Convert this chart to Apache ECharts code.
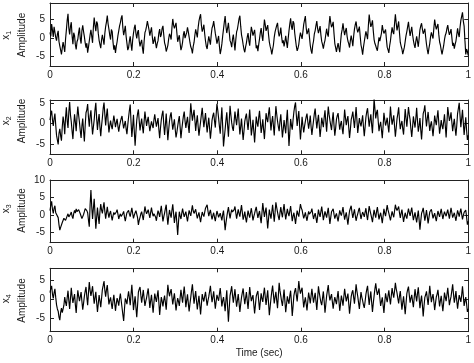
<!DOCTYPE html>
<html>
<head>
<meta charset="utf-8">
<script src="https://cdn.jsdelivr.net/npm/echarts@6/dist/echarts.min.js"></script>
<style>html,body{margin:0;padding:0;background:#fff}#c{width:474px;height:363px}</style>
</head>
<body>
<div id="c"></div>
<script>
// ---- data (512 samples per channel over 0..1 s) ----
var xTickLabels = ['0', '0.2', '0.4', '0.6', '0.8', '1'];
var channelNames = ['1', '2', '3', '4'];
var yTicks1 = [-5, 0, 5];
var yTicks2 = [-5, 0, 5];
var yTicks3 = [-5, 0, 5, 10];
var yTicks4 = [-5, 0, 5];

var x1 = [
 1.5,0.4,3.8,2.1,0.2,3.0,2.6,0.1,-0.8,0.9,1.9,-1.1,-2.3,-3.4,-4.6,-2.8,
 -1.2,-2.5,-3.9,-0.4,2.1,4.8,6.6,2.7,0.9,3.1,4.3,0.5,-1.8,1.4,0.6,-1.9,
 -3.2,-1.1,-0.4,1.5,2.8,-0.3,-1.6,2.0,3.4,1.7,0.3,-1.4,-2.7,-1.5,-4.1,-2.6,
 -0.9,0.8,2.2,0.4,-1.4,2.9,5.6,3.4,1.8,4.5,3.9,1.2,-0.7,-1.8,-2.9,-0.6,
 0.8,-0.5,-1.9,1.2,3.1,4.4,6.1,3.8,2.4,0.7,-0.5,2.3,1.7,-1.2,-3.3,-2.1,
 -4.2,-2.4,-1.1,0.6,1.9,3.3,4.2,5.4,6.2,2.8,0.7,1.9,3.3,0.4,-1.5,-3.4,
 -2.8,-0.9,0.4,-1.8,-3.6,-0.6,1.2,2.7,3.6,1.1,-0.2,1.5,2.1,-0.9,-2.4,-1.3,
 -0.6,-2.9,-4.4,-1.0,1.4,2.1,3.2,4.6,5.1,2.2,0.6,1.8,2.9,0.3,-1.7,-0.9,
 0.3,-1.4,-2.9,-1.6,-0.8,1.3,2.4,0.2,0.9,2.6,3.3,0.8,-1.4,-2.2,-3.8,-3.0,
 -2.1,-0.3,1.1,0.5,-0.5,2.8,5.2,3.5,2.6,3.0,4.1,1.4,-1.1,-0.2,0.7,-1.6,
 -3.4,-2.6,-1.2,0.9,1.8,-0.1,-0.6,1.4,2.9,1.6,0.2,-1.3,-2.5,-3.1,-4.3,-2.4,
 -1.3,0.7,2.3,1.2,0.1,2.8,4.6,5.7,6.5,3.4,1.7,2.5,3.6,1.1,-0.9,-2.4,
 -3.1,-1.2,0.4,-0.8,-1.9,0.8,2.7,3.3,4.6,2.9,1.2,-0.1,-1.6,-0.6,0.5,-2.3,
 -4.5,-3.3,-1.7,0.5,2.4,4.3,6.0,3.1,1.3,2.7,4.1,1.6,-0.8,-1.4,-2.6,-0.4,
 0.9,-1.3,-3.5,-0.6,1.6,2.4,3.8,5.3,6.1,3.2,0.8,-0.4,-1.9,-3.2,-4.0,-2.5,
 -1.4,0.2,1.3,-0.9,-2.2,0.6,3.0,1.9,0.6,1.1,2.2,-0.4,-2.9,-2.1,-3.7,-1.9,
 -0.3,1.4,2.7,0.6,-0.9,2.1,5.0,3.6,1.9,2.4,3.5,0.9,-1.2,-2.4,-3.2,-4.6,
 -4.1,-2.0,0.2,1.6,2.1,3.4,4.1,1.7,0.4,1.2,2.8,0.3,-1.5,-0.7,-2.4,-1.1,
 0.5,-1.2,-2.8,-0.3,1.9,3.8,5.4,3.1,2.2,4.6,4.0,1.3,-0.6,-2.4,-3.6,-2.9,
 -1.8,0.1,1.4,0.9,-0.3,1.6,3.7,4.9,6.0,2.8,1.0,1.7,2.6,0.2,-2.1,-3.5,
 -4.4,-2.1,-0.9,1.1,2.0,3.4,4.6,2.5,1.3,2.2,3.2,0.8,-1.0,-1.9,-3.0,-1.6,
 -0.7,0.9,2.5,1.0,0.3,3.6,6.0,4.2,2.9,3.5,4.4,1.2,-1.6,-2.7,-3.9,-2.6,
 -1.5,-2.8,-4.0,-1.3,1.1,2.3,4.0,2.1,0.7,1.9,2.7,0.4,-0.9,-1.6,-2.7,-0.8,
 0.6,-0.7,-2.3,0.4,2.4,3.6,4.5,2.6,1.5,2.2,3.1,0.5,-2.0,-3.1,-4.7,-2.6,
 -1.1,0.4,1.8,0.7,-0.4,3.3,6.4,4.5,3.0,3.7,4.8,1.9,-0.5,-1.6,-2.2,-3.0,
 -3.6,-1.7,0.1,-0.9,-1.4,1.3,3.5,2.1,1.2,1.6,2.3,-0.3,-2.6,-3.3,-4.2,-2.2,
 -0.8,1.2,2.9,1.6,1.0,3.9,6.5,4.1,2.0,3.2,4.5,1.4,-1.3,-2.3,-3.1,-4.5,
 -4.0,-2.6,-1.0,0.6,1.7,3.1,4.4,2.2,0.5,1.8,3.0,0.9,-0.7,-1.9,-2.8,-1.0,
 0.4,-1.0,-2.5,-0.2,2.2,3.3,4.0,2.4,1.1,1.7,2.5,0.2,-1.8,-3.3,-4.5,-2.9,
 -1.6,0.3,1.5,0.6,-0.2,2.6,5.0,3.4,2.3,3.1,3.8,1.0,-1.1,-2.0,-3.4,-4.6,
 -4.1,-2.2,-0.5,0.7,1.3,2.6,3.5,1.9,0.8,1.5,2.4,0.1,-2.2,-1.4,-3.0,-1.8,
 -0.9,0.8,2.6,1.1,0.2,2.9,4.8,5.9,7.0,4.6,3.2,-0.8,-4.6,-3.1,-3.8,-4.9
];
var x2 = [
 0.8,2.3,3.1,0.9,-0.6,1.1,2.4,-0.4,-2.9,-4.0,-5.1,-2.4,-1.3,-3.0,-4.2,-0.8,1.7,0.2,-2.6,1.4,3.9,0.6,-1.1,2.8,5.2,2.1,0.4,-1.9,-3.8,-0.4,2.2,0.3,
 -1.9,1.6,4.1,2.0,0.3,-1.8,-3.5,-0.6,1.2,-1.9,-4.4,-0.5,2.6,3.3,4.7,1.5,-0.8,1.8,3.2,0.1,-2.7,-0.9,0.9,3.4,5.0,1.2,-1.6,0.7,2.3,-0.8,-3.1,-0.6,
 1.4,3.7,5.1,2.2,-0.5,1.9,3.6,0.4,-2.2,-0.6,0.7,-0.5,-1.4,0.3,1.9,0.6,-0.9,0.2,1.1,-0.7,-2.0,-0.6,0.4,1.2,1.8,0.1,-1.2,-0.2,0.6,-1.3,-2.6,-0.4,
 1.5,3.2,4.6,0.4,-3.3,-0.9,2.1,-2.0,-5.4,-2.1,0.8,2.4,3.4,0.6,-1.7,-0.1,1.2,-0.8,-2.4,0.5,2.9,1.1,-0.6,0.7,1.6,-0.3,-1.9,-0.6,0.5,-0.4,-1.1,0.9,
 2.2,0.6,-0.8,0.3,1.3,-1.4,-3.6,-1.1,0.9,2.2,3.1,-0.2,-2.8,-0.3,2.4,-0.9,-4.1,-1.6,0.6,1.9,2.7,0.4,-1.5,-0.2,1.0,-1.4,-3.4,-2.2,-0.7,0.7,1.8,-0.9,
 -3.6,-1.5,0.2,1.8,2.9,0.6,-1.1,0.4,1.6,-0.6,-2.3,1.4,4.9,2.6,0.7,2.1,3.3,0.9,-1.8,0.3,2.0,-0.7,-3.0,-1.2,0.4,2.2,3.8,1.3,-0.9,0.8,2.5,0.1,
 -2.2,-0.3,1.4,-1.2,-3.7,-1.6,0.8,1.9,2.6,0.6,-1.0,2.1,4.8,3.2,1.3,-0.7,-2.5,0.9,3.9,-0.8,-5.6,-3.4,-1.4,0.8,2.7,-0.4,-3.2,0.6,4.3,2.1,0.2,-1.1,
 -1.8,0.6,2.9,1.1,-0.4,1.8,3.6,0.3,-2.7,-0.8,1.2,-1.6,-4.0,-1.9,0.5,1.6,2.4,0.2,-1.6,0.9,3.4,0.4,-2.9,-1.2,0.9,-1.9,-4.6,-1.5,1.7,0.2,-0.8,1.4,
 3.1,0.5,-2.3,-0.9,1.0,-1.5,-3.8,-0.7,2.5,1.2,0.3,2.4,3.9,1.0,-1.7,0.4,1.8,-0.6,-2.9,0.8,4.2,2.3,0.6,-0.8,-1.9,0.6,2.2,-0.7,-3.4,-1.4,0.8,-0.9,
 -2.4,0.8,3.3,-1.2,-5.5,-2.3,1.1,-0.4,-1.5,0.9,2.8,4.2,5.1,2.0,-0.6,1.4,3.0,-0.6,-3.9,-1.3,1.6,-0.5,-2.2,-0.7,0.5,1.6,2.4,0.4,-1.3,0.2,1.9,-0.8,
 -2.8,-1.0,0.7,2.4,3.6,1.1,-1.2,0.6,2.1,-0.5,-3.3,-1.2,1.4,0.2,-0.9,1.5,3.2,0.4,-2.0,1.3,4.1,2.2,0.8,-0.5,-1.6,0.9,2.7,-0.4,-3.0,-1.2,1.0,1.9,
 2.5,0.4,-1.5,-0.2,0.6,-1.2,-2.6,0.3,3.4,1.4,-0.4,0.9,1.8,-1.0,-3.5,-1.5,0.9,1.8,2.9,0.8,-1.1,1.5,4.0,0.9,-2.3,-0.6,1.3,0.2,-0.7,0.6,2.0,-0.8,
 -3.1,-0.9,1.5,2.8,3.7,1.4,-0.8,0.9,2.2,-0.3,-2.4,1.7,6.0,3.5,1.2,2.6,3.3,0.6,-1.9,-0.5,0.4,-1.6,-3.6,-0.7,2.6,1.0,-0.5,0.3,1.4,-0.6,-2.2,0.9,
 4.1,1.6,-0.3,0.8,2.0,-0.7,-3.2,-1.1,1.1,2.4,3.9,0.9,-1.4,-0.2,0.6,-1.3,-2.7,0.4,3.5,1.3,-0.8,1.6,4.0,2.2,0.9,-1.4,-3.3,-0.9,1.7,0.3,-1.0,1.2,
 3.8,0.7,-2.0,-0.6,1.3,-1.5,-3.9,-0.9,2.4,3.1,4.4,1.6,-0.7,1.2,2.8,0.4,-1.8,-0.4,0.5,-1.2,-3.1,-0.8,1.9,0.6,-0.4,1.5,3.2,0.3,-2.5,-1.0,0.8,-0.5,
 -1.4,0.4,2.2,-0.6,-3.4,0.2,4.0,2.3,0.6,1.4,2.7,0.3,-1.9,-0.2,1.1,-1.2,-3.0,-0.5,2.4,3.7,5.0,1.9,-0.9,1.2,3.3,0.2,-2.8,-0.6,1.5,-1.6,-4.0,-2.9
];
var x3 = [
 1.2,2.8,3.9,1.6,0.4,1.9,2.6,0.6,1.1,0.2,-0.8,-2.9,-4.4,-3.6,-3.1,-2.2,-1.9,-1.0,-0.6,-1.6,-1.4,-0.3,0.3,-0.6,-0.9,0.2,0.8,-0.4,-1.1,0.4,1.3,0.5,
 1.7,0.9,0.5,1.5,1.2,0.3,-0.4,-1.1,-1.6,0.1,0.9,1.8,2.3,1.2,0.6,-1.5,-3.4,2.8,7.1,2.4,-1.2,1.9,4.6,0.3,-4.0,-0.8,2.1,-0.5,-2.6,0.8,3.1,1.4,
 0.4,2.1,3.6,1.0,-1.1,0.6,2.3,0.5,-0.8,0.4,1.1,-0.4,-1.6,-0.3,0.7,0.1,-0.4,0.8,1.5,0.2,-1.2,-0.3,0.3,-0.5,-0.9,0.4,1.0,-0.6,-1.8,-0.5,0.6,0.9,
 1.3,0.2,-0.5,0.8,2.0,0.4,-1.0,-0.1,0.6,1.2,1.6,-0.8,-2.9,-1.6,-0.7,0.3,0.9,-0.4,-1.5,0.6,2.4,1.1,0.3,0.9,1.5,0.2,-0.9,0.7,2.1,0.6,-0.4,0.3,
 0.8,-0.6,-1.7,-0.1,1.2,0.4,-0.6,1.1,2.6,0.2,-1.9,-0.6,0.5,1.8,2.9,-0.3,-2.8,-0.5,1.4,0.2,-0.8,1.3,3.0,0.4,-2.3,-0.4,0.9,-2.4,-5.8,-2.1,0.9,-0.3,
 -1.2,0.4,1.8,0.5,-0.6,0.2,0.9,-0.6,-1.9,-0.2,1.3,0.4,-0.3,1.3,2.7,1.1,0.4,0.9,1.6,0.2,-1.0,-0.1,0.7,-0.8,-2.1,-0.5,0.8,0.1,-0.5,0.7,1.9,2.3,
 2.9,1.1,-0.4,0.6,1.4,-0.1,-1.3,-0.2,0.6,-0.7,-1.8,-0.2,1.1,0.3,-0.7,-0.1,0.5,-0.6,-1.6,0.1,1.2,-1.6,-4.4,-2.3,-0.6,0.9,2.2,0.5,-1.0,0.4,1.5,0.8,
 0.3,1.5,2.4,0.6,-1.1,0.3,1.6,0.4,-0.5,1.2,2.8,0.7,-1.4,-0.4,0.9,-0.8,-2.2,-0.4,1.2,0.1,-0.8,0.6,1.9,0.2,-1.6,-0.5,0.4,1.4,2.3,0.6,-0.9,0.2,
 1.1,-0.8,-2.4,0.6,3.4,1.2,-0.6,0.9,2.1,-1.0,-3.9,-1.2,1.5,0.1,-1.1,0.8,2.9,0.4,-2.0,0.7,3.6,2.1,0.8,-0.5,-1.5,0.6,2.2,0.5,-0.7,1.4,3.1,0.6,
 -1.3,0.2,1.7,0.5,-0.4,1.1,2.5,0.3,-1.8,-0.4,0.6,-0.9,-2.6,-0.5,1.2,0.2,-0.5,1.4,3.1,2.0,1.4,0.1,-1.0,-0.2,0.7,-0.6,-1.7,-0.3,1.0,0.2,-0.3,0.9,
 1.8,0.2,-1.2,-0.2,0.5,-0.9,-2.3,-0.5,1.5,0.3,-0.6,0.9,2.4,0.5,-1.5,-0.2,1.0,0.1,-0.8,0.7,2.0,-0.4,-2.6,-0.8,0.9,1.4,1.7,0.2,-1.1,-0.2,0.4,-0.8,
 -1.9,-0.3,1.3,0.4,-0.2,0.9,2.2,0.3,-1.4,-0.2,0.7,-1.1,-2.8,-0.7,1.1,1.9,2.6,0.6,-0.9,0.4,1.6,-0.2,-1.7,-0.6,0.3,1.3,2.0,0.3,-1.2,-0.1,0.8,0.2,
 -0.6,0.8,1.9,-0.1,-1.5,0.6,2.5,1.3,0.2,-0.9,-2.1,-0.2,1.4,0.2,-0.8,0.9,2.2,0.4,-1.3,-0.2,0.6,-0.8,-2.4,-0.4,1.7,0.5,-0.4,1.2,2.8,1.4,0.5,-0.6,
 -1.6,-0.2,1.0,0.1,-0.7,1.1,2.9,1.8,1.2,1.6,2.4,0.6,-0.9,0.4,1.5,-0.3,-2.0,-0.6,0.6,-0.4,-1.1,0.5,1.8,0.6,-0.3,0.9,2.1,0.2,-1.5,-0.4,0.7,-0.8,
 -2.2,-0.4,1.2,-1.4,-4.3,-1.8,0.4,1.1,2.0,0.2,-1.7,-0.3,1.4,-0.5,-2.5,-0.8,0.8,1.2,1.6,0.3,-1.0,-0.2,0.5,-0.7,-1.8,-0.3,1.1,0.2,-0.6,0.6,1.7,0.2,
 -1.2,-0.1,0.9,0.2,-0.4,0.6,1.5,0.1,-1.1,0.5,2.0,0.6,-0.8,-0.1,0.6,-0.6,-1.7,-0.2,1.3,0.4,-0.5,0.8,1.8,0.2,-1.3,-0.2,0.7,1.1,1.4,-0.6,-2.8,-1.9
];
var x4 = [
 1.8,2.9,3.6,1.4,0.2,1.7,2.8,0.5,-1.5,-2.6,-3.2,-4.8,-5.6,-3.5,-2.4,-3.6,-4.1,-1.6,0.6,-0.8,-1.8,0.4,2.3,-0.3,-2.6,0.2,3.1,0.8,-1.0,0.3,1.4,-1.5,
 -3.7,-0.4,2.4,0.8,-0.5,0.7,1.9,-0.6,-2.8,-1.1,0.8,2.2,3.3,0.6,-1.6,1.7,4.6,2.4,0.9,2.1,3.5,1.0,-1.2,0.5,2.0,-0.8,-3.4,-1.2,1.1,-0.4,-2.1,0.2,
 2.6,3.7,4.9,2.4,0.7,2.6,3.8,1.1,-1.4,-0.3,0.5,-1.2,-2.6,-0.5,1.2,-0.9,-3.1,-1.2,0.3,-0.6,-1.7,0.2,1.5,-0.4,-2.2,-4.1,-5.8,-2.6,0.2,-0.4,-1.3,0.6,
 2.1,0.4,-1.6,1.3,3.9,0.6,-2.9,-0.9,0.8,-2.2,-4.8,-1.6,1.9,2.7,3.3,1.1,-0.9,0.8,2.5,0.2,-1.8,-0.6,0.4,1.7,2.9,0.3,-2.3,-0.4,1.2,-1.3,-3.6,-0.9,
 1.5,0.3,-0.7,0.9,2.4,-0.8,-4.2,-1.7,0.6,-0.5,-1.9,-0.2,1.0,-0.9,-2.8,0.6,3.9,2.1,0.8,1.9,2.7,0.6,-1.4,0.2,1.6,-0.7,-3.0,-1.2,0.3,-0.6,-1.8,0.4,
 2.5,0.7,-0.9,1.4,3.4,0.8,-2.1,-0.3,1.3,-1.1,-3.3,-1.2,0.5,2.4,4.0,1.3,-1.2,0.6,2.2,-0.4,-2.7,-0.8,0.9,-1.5,-4.1,-1.3,1.4,0.2,-0.6,0.8,2.0,0.1,
 -1.7,-0.4,0.7,2.1,3.6,1.2,-0.8,0.6,2.1,-0.3,-2.5,-0.6,1.2,0.3,-0.4,1.4,3.0,0.6,-1.9,-0.4,0.6,-1.2,-3.2,-0.2,2.4,-2.1,-6.0,-2.4,1.0,2.2,3.5,1.1,
 -0.9,0.9,2.7,0.2,-2.0,-0.3,1.4,-1.0,-3.4,-1.3,0.5,1.8,2.9,0.6,-1.3,0.4,1.9,-0.5,-2.6,0.3,3.3,1.2,-0.5,0.4,1.1,-1.4,-3.8,-1.5,0.8,1.6,2.2,-0.4,
 -2.9,-0.6,1.6,0.2,-0.7,1.4,3.1,0.6,-1.5,0.5,2.4,-0.9,-4.3,-2.0,0.2,2.1,3.7,1.2,-1.1,0.6,2.0,-0.3,-2.4,0.9,4.4,2.3,0.9,-0.6,-1.8,0.4,2.6,-0.5,
 -3.5,-1.4,0.8,-0.4,-1.2,0.9,2.3,-0.8,-4.5,-1.9,1.0,2.2,3.0,1.1,-0.6,2.0,4.9,2.8,1.5,2.4,3.1,0.3,-2.2,-0.7,0.5,-1.2,-3.0,-0.6,1.8,0.4,-1.1,0.9,
 2.8,0.8,-0.9,0.5,1.7,-0.6,-2.9,0.2,3.5,1.8,0.4,-0.8,-1.6,0.3,2.1,-0.6,-3.6,-1.4,0.9,2.4,3.8,1.2,-0.3,0.6,1.4,-0.7,-2.5,-0.8,0.6,-0.4,-1.3,0.5,
 2.2,-0.4,-3.1,-1.2,1.0,-0.2,-1.7,0.6,2.8,1.0,-0.6,0.5,1.5,-1.1,-3.9,-1.6,0.7,1.8,2.4,0.5,-1.2,1.3,4.0,2.2,0.8,-0.9,-2.6,-0.3,1.9,0.6,-0.4,-1.5,
 -2.3,-0.6,1.3,2.6,3.6,0.9,-1.5,0.4,2.1,-0.8,-3.4,-1.1,0.9,2.8,4.3,2.4,1.2,2.0,2.9,0.4,-1.8,-0.6,0.5,-1.6,-3.7,-0.9,1.6,0.3,-0.8,0.9,2.4,0.3,
 -1.4,0.9,3.0,1.6,0.4,2.2,4.4,2.8,1.7,0.2,-1.1,0.8,2.2,-0.4,-2.8,-0.9,0.8,-1.6,-4.0,-1.2,1.5,2.6,3.4,1.1,-0.9,0.3,1.2,-0.6,-2.1,0.4,2.7,0.9,
 -0.6,1.5,3.2,0.4,-2.4,-0.5,1.0,-1.6,-4.6,-1.8,0.5,1.2,2.1,0.2,-1.5,0.9,3.6,1.3,-0.8,0.5,1.4,-0.6,-2.9,-1.1,0.6,1.4,2.5,0.3,-1.9,-0.4,0.9,-1.2,
 -3.2,-0.9,1.8,0.6,-0.5,1.2,3.1,0.8,-1.6,-0.3,0.7,2.3,4.0,1.4,-0.9,0.5,2.2,-0.4,-2.5,-0.6,1.1,0.2,-0.7,1.1,3.5,0.9,-1.8,-0.5,0.6,-1.2,-3.4,-2.6
];

// ---- layout / styling ----
var channels = [x1, x2, x3, x4];
var yTickSets = [yTicks1, yTicks2, yTicks3, yTicks4];
var yRanges = [[-7.8, 9.6], [-7.5, 5.7], [-8, 10], [-8.7, 8.3]];
var gridBoxes = [[3, 63], [100, 54.3], [180, 62.7], [268.3, 63.4]];
var labelPos = [ // [amplitudeY, xY, digitY]
  [35, 37.2, 32.7], [121, 122.7, 118.2], [210.5, 210.7, 206.2], [300.5, 300.7, 296.2]
];
var FONT = '"Liberation Sans", Arial, sans-serif';
var AX = '#222';

function timeOf(i, n) { return i / (n - 1); }

var grid = [], xAxis = [], yAxis = [], series = [], graphic = [];
channels.forEach(function (vals, k) {
  grid.push({ left: 50, right: 3, top: gridBoxes[k][0], height: gridBoxes[k][1], containLabel: false });
  var lineStyle = { color: AX, width: 1 };
  var base = {
    gridIndex: k, type: 'value', min: 0, max: 1, interval: 0.2,
    axisLine: { show: true, onZero: false, lineStyle: lineStyle },
    axisTick: { show: true, inside: true, length: 4, lineStyle: lineStyle },
    splitLine: { show: false }
  };
  xAxis.push(Object.assign({}, base, {
    position: 'bottom',
    axisLabel: {
      show: true, margin: 4, fontSize: 10, color: '#1a1a1a', fontFamily: FONT,
      showMinLabel: true, showMaxLabel: true,
      formatter: function (v) { return xTickLabels[Math.round(v / 0.2)]; }
    },
    name: k === 3 ? 'Time (sec)' : '',
    nameLocation: 'middle', nameGap: 17,
    nameTextStyle: { fontSize: 10, color: '#1a1a1a', fontFamily: FONT }
  }));
  xAxis.push(Object.assign({}, base, { position: 'top', axisLabel: { show: false } }));

  var ybase = {
    gridIndex: k, type: 'value', min: yRanges[k][0], max: yRanges[k][1],
    axisLine: { show: true, onZero: false, lineStyle: lineStyle },
    axisTick: { show: true, inside: true, length: 4, lineStyle: lineStyle, customValues: yTickSets[k] },
    splitLine: { show: false }
  };
  yAxis.push(Object.assign({}, ybase, {
    position: 'left',
    axisLabel: { show: true, margin: 5, fontSize: 10, color: '#1a1a1a', fontFamily: FONT, customValues: yTickSets[k] }
  }));
  yAxis.push(Object.assign({}, ybase, { position: 'right', axisLabel: { show: false } }));

  series.push({
    type: 'line', xAxisIndex: 2 * k, yAxisIndex: 2 * k,
    showSymbol: false, symbol: 'none', animation: false, sampling: 'none',
    lineStyle: { color: '#000', width: 1.15 },
    data: vals.map(function (v, i) { return [timeOf(i, vals.length), v]; })
  });

  graphic.push({
    type: 'text', x: 22, y: labelPos[k][0], rotation: Math.PI / 2,
    style: { text: 'Amplitude', fontSize: 10, fontFamily: FONT, fill: '#1a1a1a', align: 'center', verticalAlign: 'middle' }
  });
  graphic.push({
    type: 'text', x: 6, y: labelPos[k][1], rotation: Math.PI / 2,
    style: { text: 'x', fontSize: 10, fontFamily: FONT, fill: '#1a1a1a', align: 'center', verticalAlign: 'middle' }
  });
  graphic.push({
    type: 'text', x: 9, y: labelPos[k][2], rotation: Math.PI / 2,
    style: { text: channelNames[k], fontSize: 7, fontFamily: FONT, fill: '#1a1a1a', align: 'center', verticalAlign: 'middle' }
  });
});

var chart = echarts.init(document.getElementById('c'), null, { renderer: 'canvas' });
chart.setOption({
  animation: false,
  backgroundColor: '#fff',
  grid: grid, xAxis: xAxis, yAxis: yAxis, series: series, graphic: graphic
});
</script>
</body>
</html>
